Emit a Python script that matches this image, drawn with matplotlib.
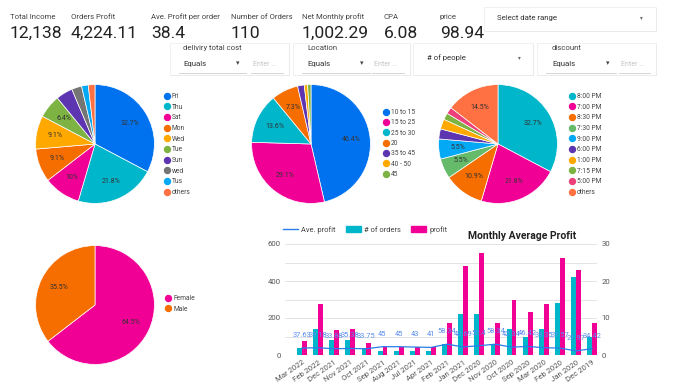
import numpy as np
import matplotlib
matplotlib.use('Agg')
import matplotlib.pyplot as plt
from matplotlib.lines import Line2D
from matplotlib.patches import Patch, Rectangle

plt.rcParams['font.family'] = ['Roboto', 'DejaVu Sans']

W, H = 680, 388

BLUE = '#0072f0'
TEAL = '#00b6cb'
PINK = '#f10096'
ORANGE = '#f66d00'
YELLOW = '#ffa800'
GREEN = '#7cb342'
LGREEN = '#66bb6a'
PURPLE = '#5e35b1'
GRAY = '#757575'
LBLUE = '#03a9f4'
CORAL = '#ff7043'
ROSE = '#ec407a'

# KPI scorecards
kpi_names = ['Total Income', 'Orders Profit', 'Ave. Profit per order', 'Number of Orders',
             'Net Monthly profit', 'CPA', 'price']
kpi_values = ['12,138', '4,224.11', '38.4', '110', '1,002.29', '6.08', '98.94']
kpi_x = [10, 71, 151, 231, 302, 384, 440]

# pie charts (order counts)
day_labels = ['Fri', 'Thu', 'Sat', 'Mon', 'Wed', 'Tue', 'Sun', 'wed', 'Tus', 'others']
day_counts = [36, 24, 11, 10, 10, 7, 5, 3, 2, 2]
day_colors = [BLUE, TEAL, PINK, ORANGE, YELLOW, GREEN, PURPLE, GRAY, LBLUE, CORAL]

age_labels = ['10 to 15', '15 to 25', '25 to 30', '20', '35 to 45', '40 - 50', '45']
age_counts = [51, 32, 15, 8, 2, 1, 1]
age_colors = [BLUE, PINK, TEAL, ORANGE, PURPLE, YELLOW, GREEN]

time_labels = ['8:00 PM', '7:00 PM', '8:30 PM', '7:30 PM', '9:00 PM', '6:00 PM', '1:00 PM',
               '7:15 PM', '5:00 PM', 'others']
time_counts = [36, 24, 12, 6, 6, 3, 3, 2, 2, 16]
time_colors = [TEAL, PINK, ORANGE, LGREEN, LBLUE, PURPLE, YELLOW, GREEN, ROSE, CORAL]

sex_labels = ['Female', 'Male']
sex_counts = [71, 39]
sex_colors = [PINK, ORANGE]

# monthly chart
months = ['Mar 2022', 'Feb 2022', 'Dec 2021', 'Nov 2021', 'Oct 2021', 'Sep 2021', 'Aug 2021',
          'Jul 2021', 'Apr 2021', 'Feb 2021', 'Jan 2021', 'Dec 2020', 'Nov 2020', 'Oct 2020',
          'Sep 2020', 'Mar 2020', 'Feb 2020', 'Jan 2020', 'Dec 2019']
orders = [2, 7, 4, 4, 2, 1, 1, 1, 1, 3, 11, 11, 3, 7, 5, 7, 14, 21, 5]
profit = [75.26, 274.26, 135.5, 141.5, 67.5, 45, 45, 43, 41, 175, 480.6, 554, 175, 296.4,
          232.1, 275.5, 526, 461.4, 172.1]
ave_profit = [37.63, 39.18, 33.88, 35.38, 33.75, 45, 45, 43, 41, 58.34, 43.69, 50.4, 58.34,
              42.34, 46.42, 39.35, 37.57, 21.97, 34.42]


def box(x, y, w, h):
    return [x / W, 1 - (y + h) / H, w / W, h / H]


fig = plt.figure(figsize=(W / 100, H / 100), dpi=100)

# background layer for cards and filter controls
bg = fig.add_axes([0, 0, 1, 1])
bg.set_xlim(0, W)
bg.set_ylim(H, 0)
bg.axis('off')

for name, val, x in zip(kpi_names, kpi_values, kpi_x):
    bg.text(x, 17, name, fontsize=5.6, color='#444444', va='center')
    bg.text(x, 33, val, fontsize=12.6, color='#222222', va='center')


def card(x0, y0, x1, y1):
    bg.add_patch(Rectangle((x0 + 0.5, y0 + 1.2), x1 - x0, y1 - y0, color='#d6d6d6', lw=0))
    bg.add_patch(Rectangle((x0, y0), x1 - x0, y1 - y0, facecolor='white', edgecolor='#ececec', lw=0.5))


card(484, 7, 656, 31)
bg.text(497, 18, 'Select date range', fontsize=5.6, color='#333333', va='center')
bg.text(641, 18, '▾', fontsize=4, color='#666666', va='center', ha='center')

filters = [(170, 289, 'deliviry total cost', 183, 238, 253),
           (293, 410, 'Location', 307, 362, 374),
           (537, 656, 'discount', 552, 608, 621)]
for x0, x1, title, tx, ax_x, ex in filters:
    card(x0, 43, x1, 75)
    bg.text(tx, 48, title, fontsize=5.6, color='#444444', va='center')
    bg.text(tx, 64, 'Equals', fontsize=5.6, color='#333333', va='center')
    bg.text(ax_x, 64, '▾', fontsize=5, color='#444444', va='center', ha='center')
    bg.text(ex, 64, 'Enter ...', fontsize=5, color='#c4c4c4', va='center')
    bg.plot([x0 + 9, ax_x + 8], [72.5, 72.5], color='#cfcfcf', lw=0.6)
    bg.plot([ex - 2, x1 - 6], [72.5, 72.5], color='#cfcfcf', lw=0.6)

card(413, 43, 533, 75)
bg.text(427, 58, '# of people', fontsize=5.6, color='#333333', va='center')
bg.text(519, 58, '▾', fontsize=4, color='#666666', va='center', ha='center')


def pct_fmt(p):
    if p < 5:
        return ''
    s = f'{p:.1f}'
    if s.endswith('.0'):
        s = s[:-2]
    return s + '%'


def pie(cx, cy, r, counts, labels, colors, lx, ly, step):
    ax = fig.add_axes(box(cx - r, cy - r, 2 * r, 2 * r))
    ax.pie(counts, colors=colors, startangle=90, counterclock=False,
           autopct=pct_fmt, pctdistance=0.68,
           wedgeprops=dict(edgecolor='white', linewidth=0.5),
           textprops=dict(fontsize=5, color='#333333'))
    ax.set_xlim(-1.01, 1.01)
    ax.set_ylim(-1.01, 1.01)
    handles = [Line2D([], [], marker='o', ls='', color=c, markersize=4.3) for c in colors]
    fig.legend(handles, labels, loc='upper left', bbox_to_anchor=(lx / W, 1 - ly / H),
               frameon=False, fontsize=4.8, labelspacing=step, handlelength=0.8,
               handletextpad=0.4, borderpad=0, borderaxespad=0, labelcolor='#444444')


pie(95, 144, 60, day_counts, day_labels, day_colors, 164, 93, 0.55)
pie(311, 144, 60, age_counts, age_labels, age_colors, 383, 109, 0.5)
pie(498, 144, 60, time_counts, time_labels, time_colors, 569, 93, 0.55)
pie(95, 305, 60, sex_counts, sex_labels, sex_colors, 165, 295, 0.55)

# monthly bar/line chart
ax = fig.add_axes(box(285, 244, 312, 111))
ax2 = ax.twinx()
ax.set_zorder(ax2.get_zorder() + 1)
ax.patch.set_visible(False)

x = np.arange(len(months))
bw = 0.3
ax2.bar(x - bw / 2, orders, bw, color=TEAL)
ax.bar(x + bw / 2, profit, bw, color=PINK)
ax.plot(x, ave_profit, color='#2b7de9', lw=0.9)
for xi, v in zip(x, ave_profit):
    ax.annotate(f'{v:g}', (xi, v), xytext=(0, 9), textcoords='offset points',
                ha='center', va='center', fontsize=5.4, color='#5b8def')

ax.set_ylim(0, 600)
ax2.set_ylim(0, 30)
ax.set_xlim(-1.05, len(months) - 0.7)
ax.set_yticks([0, 200, 400, 600])
ax2.set_yticks([0, 10, 20, 30])
ax2.set_yticks([5, 15, 25], minor=True)
ax2.grid(True, which='both', axis='y', color='#e3e3e3', lw=0.7)
ax2.set_axisbelow(True)
ax.set_xticks(x)
ax.set_xticklabels(months, rotation=35, ha='right', rotation_mode='anchor')
for a in (ax, ax2):
    for s in a.spines.values():
        s.set_visible(False)
    a.tick_params(length=0, labelsize=5.6, labelcolor='#555555', pad=3)
ax2.tick_params(axis='y', which='minor', length=0)

ax.text(0.76, 1.07, 'Monthly Average Profit', transform=ax.transAxes, ha='center', va='center',
        fontsize=7.5, fontweight='bold', color='#222222')

lh = [Line2D([], [], color='#2b7de9', lw=1), Patch(color=TEAL), Patch(color=PINK)]
fig.legend(lh, ['Ave. profit', '# of orders', 'profit'], loc='center left',
           bbox_to_anchor=(283 / W, 1 - 230 / H), ncol=3, frameon=False, fontsize=5.4,
           handlelength=2.0, handleheight=0.8, handletextpad=0.4, columnspacing=1.4,
           borderpad=0, borderaxespad=0, labelcolor='#444444')

fig.savefig('out.png', dpi=100, facecolor='white')
